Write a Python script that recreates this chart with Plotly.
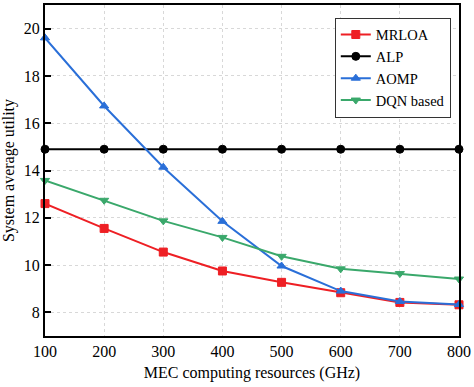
import plotly.graph_objects as go

x_vals = [100, 200, 300, 400, 500, 600, 700, 800]
mrloa = [12.6, 11.55, 10.55, 9.75, 9.27, 8.83, 8.42, 8.32]
alp = [14.9, 14.9, 14.9, 14.9, 14.9, 14.9, 14.9, 14.9]
aomp = [19.61, 16.73, 14.14, 11.85, 9.96, 8.9, 8.46, 8.33]
dqn = [13.58, 12.74, 11.87, 11.17, 10.37, 9.84, 9.64, 9.41]

x_ticks = [100, 200, 300, 400, 500, 600, 700, 800]
y_ticks = [8, 10, 12, 14, 16, 18, 20]

series = [
    ("MRLOA", mrloa, "#ee1f24", "square"),
    ("ALP", alp, "#000000", "circle"),
    ("AOMP", aomp, "#2a6fd8", "triangle-up"),
    ("DQN based", dqn, "#3aa86b", "triangle-down"),
]

fig = go.Figure()
for name, ys, col, sym in series:
    fig.add_trace(go.Scatter(
        x=x_vals, y=ys, name=name, mode="lines+markers",
        line=dict(color=col, width=2),
        marker=dict(symbol=sym, size=8, color=col, line=dict(color=col, width=1)),
        cliponaxis=False,
    ))

font = "Liberation Serif"
fig.update_layout(
    width=474, height=387,
    margin=dict(l=45, r=13, t=3, b=51),
    paper_bgcolor="white", plot_bgcolor="white",
    font=dict(family=font, size=16, color="black"),
    showlegend=True,
    legend=dict(x=0.70, y=0.962, xanchor="left", yanchor="top",
                bgcolor="white", bordercolor="#333333", borderwidth=1,
                font=dict(family=font, size=14.5), tracegroupgap=0),
    xaxis=dict(
        range=[100, 800], tickvals=x_ticks, ticks="", showline=True,
        linecolor="black", linewidth=2, mirror=True,
        showgrid=True, gridcolor="#d8d8d8", griddash="dot", gridwidth=1,
        zeroline=False,
        title=dict(text="MEC computing resources (GHz)", standoff=8,
                   font=dict(family=font, size=16)),
        tickfont=dict(family=font, size=16),
    ),
    yaxis=dict(
        range=[7, 21], tickvals=y_ticks, ticks="inside", ticklen=6,
        tickwidth=1.5, tickcolor="black", showline=True,
        linecolor="black", linewidth=2, mirror=True,
        showgrid=True, gridcolor="#d8d8d8", griddash="dot", gridwidth=1,
        zeroline=False,
        title=dict(text="System average utility", standoff=8,
                   font=dict(family=font, size=16)),
        tickfont=dict(family=font, size=16),
    ),
)
fig.write_html("out.html", config={"displayModeBar": False},
               post_script="document.body.style.margin='0';document.body.style.padding='0';")
